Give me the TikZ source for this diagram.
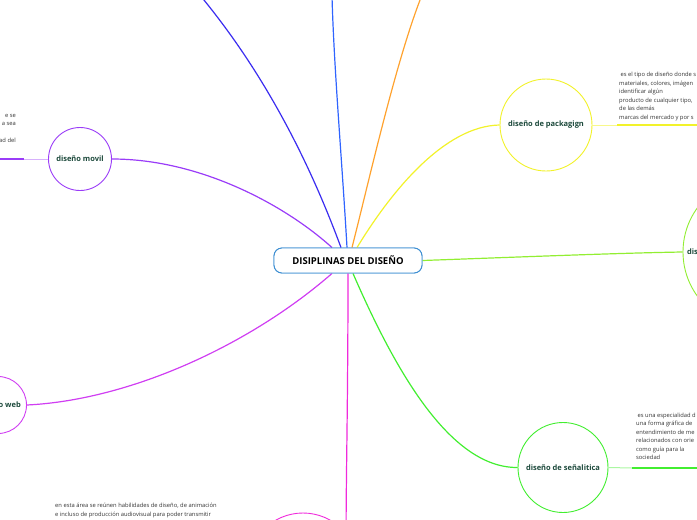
\documentclass[tikz,border=0pt]{standalone}
\usepackage{fontspec}
\setmainfont{Open Sans}
\definecolor{cdblue}{HTML}{3A2CF0}
\definecolor{cblue}{HTML}{2F64FF}
\definecolor{corange}{HTML}{FFA22E}
\definecolor{cyellow}{HTML}{F2F22A}
\definecolor{clime}{HTML}{92EE32}
\definecolor{cgreen}{HTML}{42EE30}
\definecolor{cmag}{HTML}{F02ADC}
\definecolor{cweb}{HTML}{D03EF2}
\definecolor{cmovil}{HTML}{9A3CF8}
\definecolor{rootborder}{HTML}{3C8ED2}
\definecolor{nodetext}{HTML}{1D4A3C}
\definecolor{notetext}{HTML}{333333}
\begin{document}
\begin{tikzpicture}[x=1pt,y=-1pt,
  conn/.style={line width=1.2pt},
  topic/.style={circle, draw, line width=0.9pt, fill=white, inner sep=0pt,
    font=\bfseries\fontsize{7.5}{9}\selectfont, text=nodetext},
  topictext/.style={font=\bfseries\fontsize{7.5}{9}\selectfont, text=nodetext, inner sep=0pt},
  rootbox/.style={draw=rootborder, line width=0.9pt, rounded corners=8pt, fill=white,
      minimum width=148pt, minimum height=25pt, inner sep=0pt,
      font=\bfseries\fontsize{9.5}{11}\selectfont, text=black},
  note/.style={font=\fontsize{5.8}{8.5}\selectfont, text=notetext, align=left, inner sep=0pt},
  uline/.style={line width=2.6pt},
  lline/.style={line width=1pt}
]
\useasboundingbox (0,0) rectangle (697,520);
\clip (0,0) rectangle (697,520);

% nodes
\node[rootbox] (root) at (348,260.5) {DISIPLINAS DEL DISEÑO};
\node[topic, draw=cmovil, minimum size=63pt] (movil) at (80,159) {diseño movil};
\node[topic, draw=cweb, minimum size=57pt] (web) at (-2,405) {};
\node[topictext, anchor=east] (webtext) at (21,405) {o web};
\node[topic, draw=cyellow, minimum size=92pt] (pack) at (546,125) {diseño de packagign};
\node[topic, draw=clime, minimum size=150pt] (dis) at (758,252) {};
\node[topictext, anchor=west] (distext) at (687,252) {dis};
\node[topic, draw=cgreen, minimum size=90pt] (sena) at (563,467.5) {diseño de señalitica};
\node[topic, draw=cmag, minimum size=110pt] (bottomnode) at (303,568) {};

% free ends at the picture edge
\coordinate (e1) at (199,-6);
\coordinate (e2) at (332,-4);
\coordinate (e3) at (422,-5);

% connectors
\draw[conn, cdblue] ([xshift=-7pt]root.north) .. controls (305,150) and (258,65) .. (e1);
\draw[conn, cblue] ([xshift=-1pt]root.north) .. controls (342,160) and (334,70) .. (e2);
\draw[conn, corange] ([xshift=4pt]root.north) .. controls (368,185) and (396,60) .. (e3);
\draw[conn, cyellow] ([xshift=9pt]root.north) .. controls (392,190) and (445,126) .. (pack.west);
\draw[conn, clime] (root.east) .. controls (520,257) and (620,253) .. (dis.west);
\draw[conn, cgreen] ([xshift=5pt]root.south) .. controls (395,370) and (450,468) .. (sena.west);
\draw[conn, cmag] (root.south) .. controls (348,400) and (346,480) .. (bottomnode.39);
\draw[conn, cweb] ([xshift=-16pt]root.south) .. controls (250,345) and (130,400) .. (web.east);
\draw[conn, cmovil] ([xshift=-16pt]root.north) .. controls (285,205) and (200,159) .. (movil.east);

% redraw root on top of connector ends
\node[rootbox] at (root) {DISIPLINAS DEL DISEÑO};

% packaging note
\coordinate (pu1) at (617,125);
\coordinate (pu2) at (700,125);
\draw[lline, cyellow!55] (pack.east) -- (pu1);
\draw[uline, cyellow] (pu1) -- (pu2);
\node[note, anchor=north west] (packnote) at (619,72) {\ es el tipo de diseño donde s\\materiales, colores, imágen\\identificar algún\\producto de cualquier tipo,\\de las demás\\marcas del mercado y por s};

% señalética note
\coordinate (su1) at (632,468);
\coordinate (su2) at (700,468);
\draw[lline, cgreen!45] (sena.east) -- (su1);
\draw[uline, cgreen] (su1) -- (su2);
\node[note, anchor=north west] (senanote) at (636,412.5) {\ es una especialidad d\\una forma gráfica de\\entendimiento de me\\relacionados con orie\\como guía para la\\sociedad};

% movil note
\coordinate (mu0) at (-3,159);
\coordinate (mu1) at (24,159);
\draw[uline, cmovil] (mu0) -- (mu1);
\draw[lline, cmovil!40] (mu1) -- (movil.west);
\node[note, align=right, anchor=north east] (movilnote) at (16,114) {e se\\a sea\\[8.5pt]ad del};

% bottom note
\node[note, anchor=north west] (bottomnote) at (55,503) {en esta área se reúnen habilidades de diseño, de animación\\e incluso de producción audiovisual para poder transmitir};
\end{tikzpicture}
\end{document}
